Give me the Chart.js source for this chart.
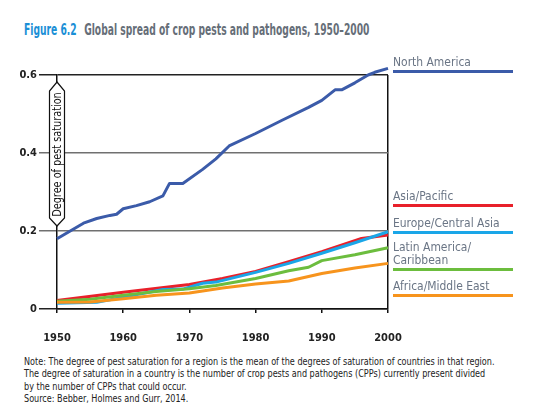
<!DOCTYPE html>
<html>
<head>
<meta charset="utf-8">
<script src="https://cdn.jsdelivr.net/npm/chart.js@4/dist/chart.umd.min.js"></script>
<style>
  html, body { margin: 0; padding: 0; background: #fff; }
  body { width: 545px; height: 415px; position: relative; overflow: hidden;
         font-family: 'DejaVu Sans Condensed', 'Liberation Sans Narrow', 'Liberation Sans', sans-serif; }
  #title { position: absolute; left: 24px; top: 21px; font-size: 15px; font-weight: bold; color: #666e78;
           white-space: nowrap; transform: scaleX(0.68); transform-origin: left top; }
  #title .fig { color: #1b8fd6; margin-right: 11px; }
  #wrap { position: absolute; left: 0; top: 55px; width: 420px; height: 295px; }
  .lab { position: absolute; left: 393px; width: 120px; border-bottom: 3px solid; padding-bottom: 2px; }
  .lab span { display: block; font-size: 13px; line-height: 13px; color: #6a7585; white-space: nowrap;
              transform: scaleX(0.92); transform-origin: left top; }
  #note, #source { position: absolute; left: 24px; font-size: 10px; line-height: 12.3px; color: #222;
                   white-space: nowrap; transform: scaleX(0.9); transform-origin: left top; }
  #note { top: 356px; }
  #source { top: 393px; }
</style>
</head>
<body>
<div id="title"><span class="fig">Figure 6.2</span>Global spread of crop pests and pathogens, 1950–2000</div>
<div id="wrap"><canvas id="chart"></canvas></div>
<div class="lab" style="top:55px;border-color:#3b5ba9"><span>North America</span></div>
<div class="lab" style="top:189px;border-color:#e8202a"><span>Asia/Pacific</span></div>
<div class="lab" style="top:216px;border-color:#1aa6e8"><span>Europe/Central Asia</span></div>
<div class="lab" style="top:240px;border-color:#6cbd3e"><span>Latin America/<br>Caribbean</span></div>
<div class="lab" style="top:279px;border-color:#f7941d"><span>Africa/Middle East</span></div>
<div id="note">Note: The degree of pest saturation for a region is the mean of the degrees of saturation of countries in that region.<br>The degree of saturation in a country is the number of crop pests and pathogens (CPPs) currently present divided<br>by the number of CPPs that could occur.</div>
<div id="source">Source: Bebber, Holmes and Gurr, 2014.</div>
<script>
'use strict';

// values
var xTicks = [1950, 1960, 1970, 1980, 1990, 2000];
var yTicks = [0, 0.2, 0.4, 0.6];

var naYears  = [1950, 1952, 1954, 1956, 1958, 1959, 1960, 1962, 1964, 1966, 1967, 1969, 1972, 1974, 1976, 1980, 1984, 1988, 1990, 1992, 1993, 1995, 1997, 1998, 2000];
var naValues = [0.18, 0.2, 0.22, 0.232, 0.24, 0.243, 0.257, 0.265, 0.275, 0.29, 0.322, 0.322, 0.358, 0.385, 0.418, 0.45, 0.484, 0.517, 0.535, 0.562, 0.562, 0.58, 0.6, 0.607, 0.617];

var apYears  = [1950, 1960, 1970, 1975, 1980, 1985, 1990, 1996, 2000];
var apValues = [0.022, 0.043, 0.063, 0.078, 0.096, 0.121, 0.147, 0.181, 0.19];

var euYears  = [1950, 1956, 1960, 1966, 1969, 1972, 1974, 1980, 1985, 1990, 1995, 2000];
var euValues = [0.015, 0.017, 0.03, 0.05, 0.051, 0.066, 0.069, 0.094, 0.117, 0.143, 0.17, 0.198];

var laYears  = [1950, 1955, 1960, 1965, 1970, 1974, 1980, 1985, 1988, 1990, 1995, 2000];
var laValues = [0.02, 0.025, 0.035, 0.045, 0.052, 0.06, 0.078, 0.098, 0.107, 0.124, 0.139, 0.157];

var afYears  = [1950, 1955, 1960, 1965, 1970, 1975, 1980, 1985, 1990, 1995, 2000];
var afValues = [0.017, 0.018, 0.026, 0.035, 0.041, 0.054, 0.064, 0.072, 0.091, 0.105, 0.117];

var tickFont = "'DejaVu Sans Condensed', 'Liberation Sans Narrow', sans-serif";

function pts(xs, ys) {
    return xs.map(function (x, i) { return { x: x, y: ys[i] }; });
}

function series(label, xs, ys, color) {
    return {
        label: label,
        data: pts(xs, ys),
        borderColor: color,
        borderWidth: 3,
        pointRadius: 0,
        tension: 0,
        borderJoinStyle: 'round',
        clip: false
    };
}

// y-axis caption in an arrow-ended box sitting on the axis
var axisCaption = {
    id: 'axisCaption',
    afterDraw: function (chart) {
        var c = chart.ctx, y = chart.scales.y, x0 = chart.chartArea.left;
        var top = y.getPixelForValue(0.6), tip1 = top + 7, sh1 = top + 16;
        var bot = y.getPixelForValue(0.2), tip2 = bot - 5, sh2 = bot - 13;
        var w = 7.5;
        c.save();
        c.beginPath();
        c.moveTo(x0, tip1);
        c.lineTo(x0 + w, sh1);
        c.lineTo(x0 + w, sh2);
        c.lineTo(x0, tip2);
        c.lineTo(x0 - w, sh2);
        c.lineTo(x0 - w, sh1);
        c.closePath();
        c.fillStyle = '#fff';
        c.fill();
        c.lineWidth = 1.2;
        c.strokeStyle = '#111';
        c.stroke();
        c.translate(x0 + 1, (sh1 + sh2) / 2);
        c.rotate(-Math.PI / 2);
        c.scale(0.9, 1);
        c.fillStyle = '#111';
        c.font = '12px ' + tickFont;
        c.textAlign = 'center';
        c.textBaseline = 'middle';
        c.fillText('Degree of pest saturation', 0, 0);
        c.restore();
    }
};

new Chart(document.getElementById('chart'), {
    type: 'line',
    data: {
        datasets: [
            series('North America', naYears, naValues, '#3b5ba9'),
            series('Africa/Middle East', afYears, afValues, '#f7941d'),
            series('Latin America/Caribbean', laYears, laValues, '#6cbd3e'),
            series('Europe/Central Asia', euYears, euValues, '#1aa6e8'),
            series('Asia/Pacific', apYears, apValues, '#e8202a')
        ]
    },
    options: {
        responsive: true,
        maintainAspectRatio: false,
        animation: false,
        layout: { padding: { top: 20, right: 32, left: 0, bottom: 0 } },
        plugins: { legend: { display: false }, tooltip: { enabled: false } },
        scales: {
            x: {
                type: 'linear',
                min: xTicks[0],
                max: xTicks[xTicks.length - 1],
                afterBuildTicks: function (s) { s.ticks = xTicks.map(function (v) { return { value: v }; }); },
                afterFit: function (s) { s.height = 41; s.paddingLeft = 0; s.paddingRight = 0; },
                border: { color: '#111', width: 1.5 },
                grid: {
                    color: function (ctx) { return ctx.tick && ctx.tick.value === 2000 ? '#111' : 'rgba(0,0,0,0)'; },
                    tickColor: '#111',
                    lineWidth: 1.5,
                    tickLength: 4
                },
                ticks: {
                    padding: 19,
                    color: '#222',
                    font: { size: 11, weight: 'bold', family: tickFont },
                    callback: function (v) { return String(v); }
                }
            },
            y: {
                min: yTicks[0],
                max: yTicks[yTicks.length - 1],
                afterBuildTicks: function (s) { s.ticks = yTicks.map(function (v) { return { value: v }; }); },
                afterFit: function (s) { s.width = 57; },
                border: { color: '#111', width: 1.5 },
                grid: {
                    color: function (ctx) {
                        var v = ctx.tick ? ctx.tick.value : 0;
                        return (v === 0 || v === 0.6) ? '#222' : '#707070';
                    },
                    lineWidth: 1.5,
                    tickLength: 18
                },
                ticks: {
                    padding: 2,
                    color: '#222',
                    font: { size: 11, weight: 'bold', family: tickFont },
                    callback: function (v) { return v === 0 ? '0' : v.toFixed(1); }
                }
            }
        }
    },
    plugins: [axisCaption]
});
</script>
</body>
</html>
